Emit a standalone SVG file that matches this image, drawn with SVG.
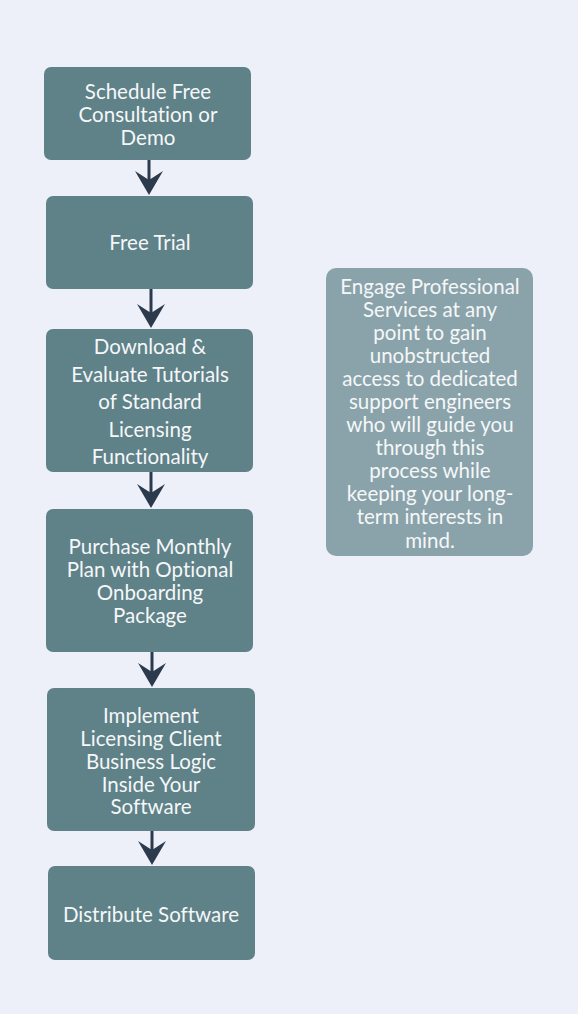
<svg xmlns="http://www.w3.org/2000/svg" width="578" height="1014" viewBox="0 0 578 1014">
<style>
.bg{fill:#eef0f9}
.n{fill:#5f8188}
.s{fill:#8aa3ab}
.t{font-family:Lato,"Liberation Sans",sans-serif;font-size:20.5px;fill:#f5f7f8;text-anchor:middle;font-variant-ligatures:none;font-feature-settings:"liga" 0,"dlig" 0}
.c{stroke:#2b3a4c;stroke-width:3;fill:none}
.h{fill:#2b3a4c}
</style>
<defs>
<path id="ah" d="M0,0 L-14,-24 L0,-15 L14,-24 Z"/>
</defs>
<rect class="bg" x="0" y="0" width="578" height="1014"/>
<g id="connectors">
<line class="c" x1="149" y1="160" x2="149" y2="185"/>
<use href="#ah" class="h" x="149" y="195"/>
<line class="c" x1="151" y1="289" x2="151" y2="318"/>
<use href="#ah" class="h" x="151" y="328"/>
<line class="c" x1="151" y1="472" x2="151" y2="498"/>
<use href="#ah" class="h" x="151" y="508"/>
<line class="c" x1="152" y1="652" x2="152" y2="677"/>
<use href="#ah" class="h" x="152" y="687"/>
<line class="c" x1="152" y1="831" x2="152" y2="855"/>
<use href="#ah" class="h" x="152" y="865"/>
</g>
<g id="n1">
<rect class="n" x="44" y="67" width="207" height="93" rx="7"/>
<text class="t" x="148" y="99">Schedule Free</text>
<text class="t" x="148" y="122">Consultation or</text>
<text class="t" x="148" y="145">Demo</text>
</g>
<g id="n2">
<rect class="n" x="46" y="196" width="207" height="93" rx="7"/>
<text class="t" x="150" y="250">Free Trial</text>
</g>
<g id="n3">
<rect class="n" x="46" y="329" width="207" height="143" rx="7"/>
<text class="t" x="150" y="354">Download &amp;</text>
<text class="t" x="150" y="381.5">Evaluate Tutorials</text>
<text class="t" x="150" y="409">of Standard</text>
<text class="t" x="150" y="436.5">Licensing</text>
<text class="t" x="150" y="464">Functionality</text>
</g>
<g id="n4">
<rect class="n" x="46" y="509" width="207" height="143" rx="7"/>
<text class="t" x="150" y="554">Purchase Monthly</text>
<text class="t" x="150" y="577">Plan with Optional</text>
<text class="t" x="150" y="600">Onboarding</text>
<text class="t" x="150" y="623">Package</text>
</g>
<g id="n5">
<rect class="n" x="47" y="688" width="208" height="143" rx="7"/>
<text class="t" x="151" y="723">Implement</text>
<text class="t" x="151" y="746">Licensing Client</text>
<text class="t" x="151" y="769">Business Logic</text>
<text class="t" x="151" y="792">Inside Your</text>
<text class="t" x="151" y="814">Software</text>
</g>
<g id="n6">
<rect class="n" x="48" y="866" width="207" height="94" rx="7"/>
<text class="t" x="151" y="922">Distribute Software</text>
</g>
<g id="side">
<rect class="s" x="326" y="268" width="207" height="288" rx="10"/>
<text class="t" x="430" y="294">Engage Professional</text>
<text class="t" x="430" y="317">Services at any</text>
<text class="t" x="430" y="340">point to gain</text>
<text class="t" x="430" y="363">unobstructed</text>
<text class="t" x="430" y="386">access to dedicated</text>
<text class="t" x="430" y="409">support engineers</text>
<text class="t" x="430" y="432">who will guide you</text>
<text class="t" x="430" y="455">through this</text>
<text class="t" x="430" y="478">process while</text>
<text class="t" x="430" y="501">keeping your long-</text>
<text class="t" x="430" y="524">term interests in</text>
<text class="t" x="430" y="548">mind.</text>
</g>
</svg>
